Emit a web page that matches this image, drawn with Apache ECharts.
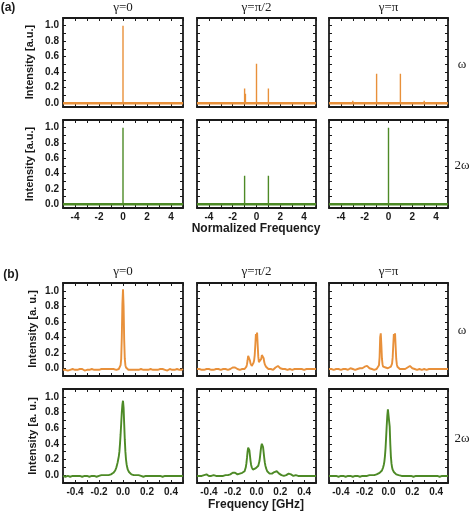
<!DOCTYPE html>
<html>
<head>
<meta charset="utf-8">
<script src="https://cdn.jsdelivr.net/npm/echarts@6/dist/echarts.min.js"></script>
<style>
html, body { margin: 0; padding: 0; background: #fff; }
#chart { width: 474px; height: 512px; }
</style>
</head>
<body>
<div id="chart"></div>
<script>
const titles = ['γ=0', 'γ=π/2', 'γ=π'];
const harmonics = ['ω', '2ω'];

// (a) simulated spectra: [normalized frequency, intensity] of each line
const specA_w_0 = [[0, 1.0]];
const specA_w_pi2 = [[-3, 0.02], [-1, 0.19], [-0.93, 0.12], [0, 0.51], [1, 0.19], [3, 0.02]];
const specA_w_pi = [[-3, 0.03], [-2, 0.01], [-1, 0.38], [0, 0.01], [1, 0.38], [2, 0.01], [3, 0.03]];
const specA_2w_0 = [[0, 1.0]];
const specA_2w_pi2 = [[-3, 0.01], [-1, 0.37], [1, 0.37], [3, 0.02]];
const specA_2w_pi = [[0, 1.0]];

// (b) measured spectra, frequency in GHz
const freqB = [
  -0.50, -0.49, -0.48, -0.47, -0.46, -0.45, -0.44, -0.43, -0.42, -0.41,
  -0.40, -0.39, -0.38, -0.37, -0.36, -0.35, -0.34, -0.33, -0.32, -0.31,
  -0.30, -0.29, -0.28, -0.27, -0.26, -0.25, -0.24, -0.23, -0.22, -0.21,
  -0.20, -0.19, -0.18, -0.17, -0.16, -0.15, -0.14, -0.13, -0.12, -0.11,
  -0.100, -0.095, -0.090, -0.085, -0.080, -0.075, -0.070, -0.065, -0.060, -0.055,
  -0.050, -0.045, -0.040, -0.035, -0.030, -0.025, -0.020, -0.015, -0.010, -0.005,
  0.000, 0.005, 0.010, 0.015, 0.020, 0.025, 0.030, 0.035, 0.040, 0.045,
  0.050, 0.055, 0.060, 0.065, 0.070, 0.075, 0.080, 0.085, 0.090, 0.095, 0.100,
  0.11, 0.12, 0.13, 0.14, 0.15, 0.16, 0.17, 0.18, 0.19, 0.20,
  0.21, 0.22, 0.23, 0.24, 0.25, 0.26, 0.27, 0.28, 0.29, 0.30,
  0.31, 0.32, 0.33, 0.34, 0.35, 0.36, 0.37, 0.38, 0.39, 0.40,
  0.41, 0.42, 0.43, 0.44, 0.45, 0.46, 0.47, 0.48, 0.49, 0.50
];
const specB_w_0 = [
  -0.02, -0.01, -0.02, -0.01, -0.03, -0.01, -0.02, -0.02, -0.01, -0.03,
  -0.02, -0.01, -0.02, -0.03, -0.01, -0.02, -0.01, -0.02, -0.03, -0.01,
  -0.02, -0.01, -0.02, -0.02, -0.01, -0.03, -0.02, -0.01, -0.02, -0.01,
  -0.02, -0.03, -0.01, -0.02, -0.01, -0.02, -0.01, -0.02, -0.01, -0.02,
  -0.01, -0.02, -0.01, -0.02, -0.01, -0.01, -0.02, -0.01, -0.01, -0.02,
  -0.01, -0.01, 0.00, -0.01, 0.00, 0.01, 0.04, 0.12, 0.40, 0.83,
  1.02, 0.80, 0.36, 0.12, 0.04, 0.01, 0.00, -0.01, -0.01, -0.02,
  -0.01, -0.02, -0.01, -0.02, -0.01, -0.02, -0.01, -0.01, -0.02, -0.01, -0.02,
  -0.02, -0.01, -0.02, -0.02, -0.01, -0.03, -0.02, -0.01, -0.02, -0.01,
  -0.02, -0.02, -0.01, -0.03, -0.02, -0.01, -0.02, -0.01, -0.02, -0.03,
  -0.01, -0.02, -0.01, -0.02, -0.02, -0.01, -0.03, -0.02, -0.01, -0.02,
  -0.02, -0.01, -0.02, -0.03, -0.01, -0.02, -0.02, -0.01, -0.02, -0.01
];
const specB_w_pi2 = [
  -0.01, -0.02, -0.01, -0.01, -0.02, -0.01, -0.02, -0.01, -0.01, -0.02,
  -0.01, -0.01, -0.02, -0.01, -0.02, -0.01, -0.01, -0.02, -0.01, -0.01,
  -0.02, -0.01, -0.01, -0.02, -0.01, -0.01, -0.02, -0.01, -0.01, 0.00,
  0.01, 0.02, 0.01, 0.00, -0.01, -0.01, -0.02, -0.01, -0.01, -0.01,
  -0.01, 0.00, 0.01, 0.02, 0.05, 0.10, 0.16, 0.18, 0.15, 0.10,
  0.06, 0.04, 0.03, 0.04, 0.05, 0.07, 0.10, 0.17, 0.30, 0.44,
  0.40, 0.46, 0.30, 0.15, 0.08, 0.06, 0.06, 0.08, 0.12, 0.17,
  0.19, 0.18, 0.13, 0.08, 0.05, 0.03, 0.02, 0.01, 0.00, 0.00, -0.01,
  -0.01, -0.01, -0.01, -0.02, 0.00, 0.01, 0.02, 0.03, 0.02, 0.00,
  -0.01, -0.01, -0.02, -0.01, -0.01, -0.02, -0.01, -0.01, -0.01, -0.02,
  -0.01, -0.01, -0.02, -0.01, -0.01, -0.01, -0.02, -0.01, -0.01, -0.02,
  -0.01, -0.01, -0.02, -0.01, -0.01, -0.01, -0.02, -0.01, -0.01, -0.01
];
const specB_w_pi = [
  -0.01, -0.02, -0.01, -0.01, -0.02, -0.01, -0.01, -0.02, -0.01, -0.01,
  -0.02, -0.01, -0.01, -0.02, -0.01, -0.01, -0.02, -0.01, 0.00, 0.00,
  -0.01, -0.01, -0.02, -0.01, -0.01, -0.01, 0.00, -0.01, 0.00, 0.01,
  0.02, 0.04, 0.03, 0.01, 0.00, -0.01, -0.01, -0.01, -0.02, -0.01,
  -0.01, -0.01, 0.00, 0.01, 0.04, 0.14, 0.40, 0.45, 0.30, 0.12,
  0.05, 0.02, 0.01, 0.01, 0.00, 0.01, 0.00, 0.01, 0.01, 0.00,
  0.01, 0.00, 0.01, 0.01, 0.02, 0.03, 0.06, 0.14, 0.30, 0.44,
  0.38, 0.45, 0.28, 0.12, 0.05, 0.02, 0.01, 0.00, 0.00, -0.01, -0.01,
  -0.01, -0.01, -0.02, -0.01, 0.00, 0.01, 0.02, 0.03, 0.02, 0.00,
  -0.01, -0.01, -0.01, -0.02, -0.01, -0.01, -0.01, -0.02, -0.01, -0.01,
  -0.01, -0.02, -0.01, -0.01, -0.01, -0.01, -0.02, -0.01, -0.01, -0.01,
  -0.02, -0.01, -0.01, -0.01, -0.02, -0.01, -0.01, -0.01, -0.02, -0.01
];
const specB_2w_0 = [
  -0.01, -0.01, -0.02, -0.01, -0.01, -0.01, -0.02, -0.01, -0.01, -0.01,
  -0.01, -0.02, -0.01, -0.01, -0.01, -0.01, -0.02, -0.01, -0.01, -0.01,
  -0.01, -0.01, -0.02, -0.01, -0.01, -0.01, -0.01, -0.01, -0.02, -0.01,
  -0.01, -0.01, 0.00, -0.01, 0.00, 0.00, 0.00, 0.01, 0.00, 0.01,
  0.01, 0.01, 0.02, 0.02, 0.03, 0.04, 0.05, 0.06, 0.08, 0.10,
  0.13, 0.16, 0.20, 0.24, 0.30, 0.40, 0.52, 0.66, 0.80, 0.90,
  0.95, 0.86, 0.65, 0.45, 0.30, 0.20, 0.14, 0.10, 0.07, 0.05,
  0.04, 0.03, 0.02, 0.02, 0.01, 0.01, 0.00, 0.01, 0.00, -0.01, 0.00,
  0.00, -0.01, 0.00, -0.01, -0.01, -0.01, -0.02, -0.01, -0.01, -0.01,
  -0.01, -0.02, -0.01, -0.01, -0.01, -0.01, -0.01, -0.02, -0.01, -0.01,
  -0.01, -0.01, -0.02, -0.01, -0.01, -0.01, -0.01, -0.02, -0.01, -0.01,
  -0.01, -0.01, -0.01, -0.02, -0.01, -0.01, -0.01, -0.02, -0.01, -0.01
];
const specB_2w_pi2 = [
  -0.01, -0.01, -0.01, -0.01, -0.01, -0.01, 0.00, 0.01, 0.01, 0.00,
  -0.01, -0.01, -0.01, -0.01, 0.00, -0.01, -0.01, -0.01, -0.01, 0.00,
  -0.01, -0.01, -0.01, 0.00, 0.00, 0.00, 0.00, 0.01, 0.01, 0.02,
  0.03, 0.04, 0.03, 0.02, 0.01, 0.01, 0.02, 0.02, 0.03, 0.04,
  0.05, 0.07, 0.10, 0.15, 0.22, 0.30, 0.35, 0.36, 0.32, 0.25,
  0.18, 0.13, 0.10, 0.08, 0.07, 0.07, 0.07, 0.08, 0.08, 0.09,
  0.10, 0.11, 0.11, 0.12, 0.14, 0.18, 0.24, 0.31, 0.37, 0.40,
  0.40, 0.36, 0.29, 0.22, 0.16, 0.12, 0.09, 0.07, 0.05, 0.04, 0.03,
  0.02, 0.02, 0.02, 0.03, 0.04, 0.05, 0.05, 0.04, 0.02, 0.01,
  0.00, 0.00, -0.01, 0.00, 0.00, 0.01, 0.02, 0.02, 0.01, 0.00,
  -0.01, -0.01, 0.00, -0.01, -0.01, -0.01, -0.01, 0.00, -0.01, -0.01,
  -0.01, -0.01, -0.01, -0.02, -0.01, -0.01, -0.01, -0.01, -0.01, -0.01
];
const specB_2w_pi = [
  -0.01, -0.01, -0.01, -0.02, -0.01, -0.01, -0.01, -0.01, -0.02, -0.01,
  -0.01, -0.01, -0.01, -0.01, -0.02, -0.01, -0.01, -0.01, -0.01, -0.01,
  -0.02, -0.01, -0.01, -0.01, -0.01, -0.01, -0.02, -0.01, -0.01, -0.01,
  -0.01, -0.01, -0.01, -0.01, 0.00, -0.01, 0.00, 0.00, 0.00, 0.01,
  0.01, 0.01, 0.01, 0.02, 0.02, 0.03, 0.03, 0.04, 0.05, 0.06,
  0.08, 0.10, 0.13, 0.17, 0.24, 0.34, 0.48, 0.63, 0.76, 0.84,
  0.86, 0.82, 0.62, 0.40, 0.24, 0.15, 0.10, 0.07, 0.05, 0.04,
  0.03, 0.02, 0.02, 0.01, 0.01, 0.00, 0.01, 0.00, 0.00, -0.01, 0.00,
  -0.01, 0.00, -0.01, -0.01, -0.01, -0.02, -0.01, -0.01, -0.01, -0.01,
  -0.02, -0.01, -0.01, -0.01, -0.01, -0.02, -0.01, -0.01, -0.01, -0.01,
  -0.01, -0.02, -0.01, -0.01, -0.01, -0.01, -0.01, -0.02, -0.01, -0.01,
  -0.01, -0.01, -0.02, -0.01, -0.01, -0.01, -0.01, -0.02, -0.01, -0.01
];

const yTickValues = [0, 0.1, 0.2, 0.3, 0.4, 0.5, 0.6, 0.7, 0.8, 0.9, 1.0];
const yLabelValues = [0, 0.2, 0.4, 0.6, 0.8, 1.0];

const orange = '#e8903a';
const green = '#4d8a26';
const ink = '#1a1a1a';

// panel boxes in px
const colLeft = [63, 197, 329];
const colWidth = [120, 119, 119];
const rowBox = [[18, 89], [120, 88], [283, 93], [389, 94]];

const panelsA = [
    [specA_w_0, specA_w_pi2, specA_w_pi],
    [specA_2w_0, specA_2w_pi2, specA_2w_pi]
];
const panelsB = [
    [specB_w_0, specB_w_pi2, specB_w_pi],
    [specB_2w_0, specB_2w_pi2, specB_2w_pi]
];

function stems(peaks) {
    const d = [[-5, 0]];
    peaks.forEach(p => {
        d.push([p[0], 0], [p[0], p[1]], [p[0], 0]);
    });
    d.push([5, 0]);
    return d;
}

const grid = [], xAxis = [], yAxis = [], series = [];
const lineStyleAxis = { color: ink, width: 1.8 };
const tickFont = { fontFamily: 'Liberation Sans', fontWeight: 'bold', fontSize: 10, color: ink };

rowBox.forEach((rb, r) => {
    const isA = r < 2;
    const harm = r % 2;
    colLeft.forEach((left, c) => {
        const k = grid.length;
        grid.push({ left: left, top: rb[0], width: colWidth[c], height: rb[1] });
        const xBase = {
            type: 'value', gridIndex: k,
            min: isA ? -5 : -0.5, max: isA ? 5 : 0.5, interval: isA ? 1 : 0.1,
            splitLine: { show: false },
            axisLine: { show: true, onZero: false, lineStyle: lineStyleAxis },
            axisTick: { show: true, inside: true, length: 3, lineStyle: { color: ink, width: 1 } }
        };
        xAxis.push(Object.assign({}, xBase, {
            position: 'bottom',
            axisLabel: Object.assign({
                show: harm === 1, margin: 4,
                formatter: v => {
                    const n = isA ? Math.round(v) : Math.round(v * 10);
                    if (n % 2 !== 0) return '';
                    return isA ? String(n) : (n / 10).toFixed(1);
                }
            }, tickFont)
        }));
        xAxis.push(Object.assign({}, xBase, { position: 'top', axisLabel: { show: false } }));
        const yBase = {
            type: 'value', gridIndex: k,
            min: isA ? -0.05 : -0.1, max: 1.1,
            splitLine: { show: false },
            axisLine: { show: true, onZero: false, lineStyle: lineStyleAxis },
            axisTick: { show: true, inside: true, length: 3, customValues: yTickValues, lineStyle: { color: ink, width: 1 } }
        };
        yAxis.push(Object.assign({}, yBase, {
            position: 'left',
            axisLabel: Object.assign({
                show: c === 0, margin: 4, customValues: yLabelValues,
                formatter: v => v.toFixed(1)
            }, tickFont)
        }));
        yAxis.push(Object.assign({}, yBase, { position: 'right', axisLabel: { show: false } }));

        const color = harm === 0 ? orange : green;
        if (isA) {
            series.push({
                type: 'line', xAxisIndex: 2 * k, yAxisIndex: 2 * k,
                data: [[-5, 0], [5, 0]], showSymbol: false, silent: true,
                lineStyle: { color: color, width: 2.5 }
            });
            series.push({
                type: 'line', xAxisIndex: 2 * k, yAxisIndex: 2 * k,
                data: stems(panelsA[harm][c]), showSymbol: false, silent: true,
                lineStyle: { color: color, width: 1.4 }
            });
        } else {
            const ys = panelsB[harm][c];
            series.push({
                type: 'line', xAxisIndex: 2 * k, yAxisIndex: 2 * k,
                data: freqB.map((f, i) => [f, ys[i]]), showSymbol: false, silent: true,
                lineStyle: { color: color, width: 1.9 }
            });
        }
    });
});

const graphic = [];
function txt(text, x, y, font, rotation) {
    graphic.push({
        type: 'text', x: x, y: y, rotation: rotation || 0, silent: true,
        style: { text: text, font: font, fill: ink, textAlign: 'center', textVerticalAlign: 'middle' }
    });
}
const serif = '13px "Liberation Serif"';
const boldSans = 'bold 12px "Liberation Sans"';
txt('(a)', 8, 8, boldSans);
txt('(b)', 11, 275, boldSans);
titles.forEach((t, c) => {
    txt(t, colLeft[c] + colWidth[c] / 2, 8, serif);
    txt(t, colLeft[c] + colWidth[c] / 2, 272, serif);
});
txt(harmonics[0], 462, 65, serif);
txt(harmonics[1], 462, 166, serif);
txt(harmonics[0], 462, 331, serif);
txt(harmonics[1], 462, 439, serif);
txt('Intensity [a.u.]', 30, 62, 'bold 11px "Liberation Sans"', Math.PI / 2);
txt('Intensity [a.u.]', 30, 164, 'bold 11px "Liberation Sans"', Math.PI / 2);
txt('Intensity [a. u.]', 33, 329, 'bold 11px "Liberation Sans"', Math.PI / 2);
txt('Intensity [a. u.]', 33, 436, 'bold 11px "Liberation Sans"', Math.PI / 2);
txt('Normalized Frequency', 256, 229, boldSans);
txt('Frequency [GHz]', 256, 505, boldSans);

const chart = echarts.init(document.getElementById('chart'));
chart.setOption({
    animation: false,
    grid: grid,
    xAxis: xAxis,
    yAxis: yAxis,
    series: series,
    graphic: graphic
});
</script>
</body>
</html>
